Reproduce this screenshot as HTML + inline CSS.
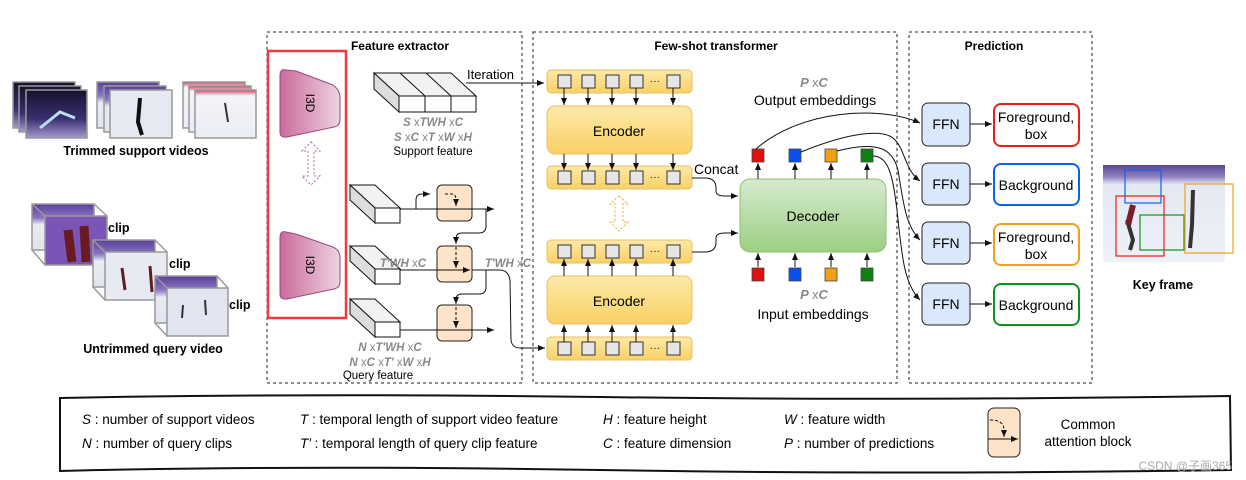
<!DOCTYPE html>
<html><head><meta charset="utf-8"><style>
html,body{margin:0;padding:0;background:#fff;}
svg{display:block;font-family:"Liberation Sans",Arial,sans-serif;}
</style></head><body>
<svg width="1246" height="480" viewBox="0 0 1246 480" xmlns="http://www.w3.org/2000/svg">
<defs>
<marker id="ah" markerWidth="8" markerHeight="8" refX="7" refY="4" orient="auto" markerUnits="userSpaceOnUse"><path d="M0,1 L7,4 L0,7 Z" fill="#111"/></marker>
<linearGradient id="i3d" x1="0" x2="1"><stop offset="0" stop-color="#cc6a9c"/><stop offset="1" stop-color="#ecd3e2"/></linearGradient>
<linearGradient id="yel" x1="0" y1="0" x2="0" y2="1"><stop offset="0" stop-color="#fdeaa8"/><stop offset="1" stop-color="#f9d065"/></linearGradient>
<linearGradient id="grn" x1="0" y1="0" x2="0" y2="1"><stop offset="0" stop-color="#d6ead0"/><stop offset="1" stop-color="#9ccf82"/></linearGradient>
<linearGradient id="ice" x1="0" y1="0" x2="0" y2="1"><stop offset="0" stop-color="#5b3f9a"/><stop offset="0.3" stop-color="#8a77c0"/><stop offset="0.45" stop-color="#e8ecf4"/><stop offset="1" stop-color="#dfe4ef"/></linearGradient>
<linearGradient id="dark" x1="0" y1="0" x2="0" y2="1"><stop offset="0" stop-color="#15122e"/><stop offset="0.6" stop-color="#3a2f70"/><stop offset="1" stop-color="#a79ad0"/></linearGradient>
<linearGradient id="whice" x1="0" y1="0" x2="0" y2="1"><stop offset="0" stop-color="#d04060"/><stop offset="0.12" stop-color="#f4f4f8"/><stop offset="1" stop-color="#e9edf4"/></linearGradient>
<linearGradient id="kf" x1="0" y1="0" x2="0" y2="1"><stop offset="0" stop-color="#5a4698"/><stop offset="0.12" stop-color="#8d80bd"/><stop offset="0.2" stop-color="#e4e8f2"/><stop offset="1" stop-color="#eef1f7"/></linearGradient>
</defs>

<!-- Left: support videos -->
<g stroke="#999" stroke-width="1.5">
<rect x="13" y="82" width="62" height="46" fill="url(#dark)"/>
<rect x="19" y="86" width="62" height="46" fill="url(#dark)"/>
<rect x="26" y="90" width="61" height="48" fill="url(#dark)"/>
<rect x="97" y="82" width="62" height="46" fill="url(#ice)"/>
<rect x="104" y="86" width="62" height="46" fill="url(#ice)"/>
<rect x="110" y="90" width="62" height="48" fill="#e6e9f2"/>
<rect x="183" y="82" width="62" height="46" fill="url(#whice)"/>
<rect x="189" y="86" width="62" height="46" fill="url(#whice)"/>
<rect x="195" y="90" width="61" height="48" fill="url(#whice)"/>
</g>
<path d="M40,128 L60,112 L75,118" stroke="#bde" stroke-width="3" fill="none"/>
<path d="M140,98 L138,122 L142,135" stroke="#111" stroke-width="4" fill="none"/>
<path d="M225,103 L228,122" stroke="#333" stroke-width="2" fill="none"/>
<text x="136" y="155" font-size="12.5" font-weight="bold" text-anchor="middle">Trimmed support videos</text>

<!-- Left: query clips -->
<g stroke="#999" stroke-width="1.5">
<rect x="32" y="204" width="62" height="46" fill="url(#ice)"/>
<line x1="32" y1="204" x2="45" y2="216"/><line x1="94" y1="204" x2="107" y2="216"/><line x1="32" y1="250" x2="45" y2="265"/>
<rect x="45" y="216" width="62" height="49" fill="#7a55b5"/>
<rect x="93" y="240" width="62" height="47" fill="url(#ice)"/>
<line x1="93" y1="240" x2="105" y2="252"/><line x1="155" y1="240" x2="167" y2="252"/><line x1="93" y1="287" x2="105" y2="300"/>
<rect x="105" y="252" width="62" height="48" fill="#e7eaf2"/>
<rect x="155" y="276" width="62" height="47" fill="url(#ice)"/>
<line x1="155" y1="276" x2="167" y2="288"/><line x1="217" y1="276" x2="228" y2="288"/><line x1="155" y1="323" x2="167" y2="336"/>
<rect x="167" y="288" width="61" height="48" fill="#e2e6f0"/>
</g>
<path d="M68,230 L72,262 M84,226 L86,262" stroke="#6a1a22" stroke-width="9"/>
<path d="M122,268 L125,290 M150,266 L152,292" stroke="#5a2020" stroke-width="3"/>
<path d="M183,305 L182,318 M205,300 L206,315" stroke="#333" stroke-width="2"/>
<g font-size="12.5" font-weight="bold"><text x="108" y="232">clip</text><text x="169" y="268">clip</text><text x="229" y="309">clip</text></g>
<text x="153" y="353" font-size="12.5" font-weight="bold" text-anchor="middle">Untrimmed query video</text>

<!-- Panels -->
<g fill="none" stroke="#222" stroke-width="1" stroke-dasharray="3,3">
<rect x="267" y="32" width="255" height="351"/>
<rect x="533" y="32" width="364" height="351"/>
<rect x="909" y="32" width="183" height="351"/>
</g>
<g font-size="12" font-weight="bold" text-anchor="middle">
<text x="400" y="50">Feature extractor</text>
<text x="716" y="50">Few-shot transformer</text>
<text x="994" y="50">Prediction</text>
</g>

<!-- Red box + I3D -->
<rect x="268" y="51" width="78" height="267" fill="none" stroke="#f03c3c" stroke-width="2.5"/>
<g stroke="#9a4a7a" stroke-width="1">
<path d="M286,70 Q280,68 280,76 L280,132 Q280,138 287,137 L334,127 Q340,126 340,119 L340,98 Q340,90 333,85 L296,71 Z" fill="url(#i3d)"/>
<path d="M286,232 Q280,230 280,238 L280,294 Q280,300 287,299 L334,289 Q340,288 340,281 L340,258 Q340,250 333,247 L296,234 Z" fill="url(#i3d)"/>
</g>
<text x="0" y="0" font-size="12" transform="translate(306,103) rotate(90)" text-anchor="middle">I3D</text>
<text x="0" y="0" font-size="12" transform="translate(306,265) rotate(90)" text-anchor="middle">I3D</text>
<path d="M311,142 L320,151 L314,151 L314,176 L320,176 L311,185 L302,176 L308,176 L308,151 L302,151 Z" fill="none" stroke="#a06a95" stroke-dasharray="2,2"/>

<!-- Support feature block -->
<g stroke="#111" stroke-width="1">
<path d="M374,73 L451,73 L476,96 L399,96 Z" fill="#f2f2f2"/>
<path d="M374,73 L399,96 L399,112 L374,89 Z" fill="#ddd"/>
<rect x="399" y="96" width="26" height="16" fill="#fff"/>
<rect x="425" y="96" width="26" height="16" fill="#fff"/>
<rect x="451" y="96" width="25" height="16" fill="#fff"/>
<line x1="400" y1="73" x2="425" y2="96"/><line x1="426" y1="73" x2="451" y2="96"/>
</g>
<text x="467" y="79" font-size="13">Iteration</text>
<line x1="466" y1="83" x2="544" y2="83" stroke="#111" marker-end="url(#ah)"/>

<!-- Query blocks -->
<g stroke="#111" stroke-width="1">
<g id="qb">
<path d="M350,185 L375,185 L400,208 L375,208 Z" fill="#f2f2f2"/>
<path d="M350,185 L375,208 L375,223 L350,200 Z" fill="#ddd"/>
<rect x="375" y="208" width="25" height="15" fill="#fff"/>
</g>
<use href="#qb" y="61"/>
<use href="#qb" y="114"/>
</g>
<g font-size="11.5" font-weight="bold" font-style="italic" fill="#888" text-anchor="middle">
<text x="433" y="126">S <tspan font-weight="normal" font-style="normal">x</tspan>TWH <tspan font-weight="normal" font-style="normal">x</tspan>C</text>
<text x="433" y="141">S <tspan font-weight="normal" font-style="normal">x</tspan>C <tspan font-weight="normal" font-style="normal">x</tspan>T <tspan font-weight="normal" font-style="normal">x</tspan>W <tspan font-weight="normal" font-style="normal">x</tspan>H</text>
<text x="390" y="351">N <tspan font-weight="normal" font-style="normal">x</tspan>T'WH <tspan font-weight="normal" font-style="normal">x</tspan>C</text>
<text x="390" y="366">N <tspan font-weight="normal" font-style="normal">x</tspan>C <tspan font-weight="normal" font-style="normal">x</tspan>T' <tspan font-weight="normal" font-style="normal">x</tspan>W <tspan font-weight="normal" font-style="normal">x</tspan>H</text>
<text x="403" y="267">T'WH <tspan font-weight="normal" font-style="normal">x</tspan>C</text>
<text x="508" y="267">T'WH <tspan font-weight="normal" font-style="normal">x</tspan>C</text>
</g>
<text x="433" y="155" font-size="11.5" text-anchor="middle">Support feature</text>
<text x="378" y="379" font-size="11.5" text-anchor="middle">Query feature</text>
<!-- Attention blocks -->
<g fill="#fde3c8" stroke="#222" stroke-width="1">
<rect x="437" y="185" width="35" height="36" rx="5"/>
<rect x="437" y="246" width="35" height="36" rx="5"/>
<rect x="437" y="305" width="35" height="36" rx="5"/>
</g>
<g stroke="#111" fill="none" stroke-width="1">
<line x1="400" y1="209" x2="494" y2="209" marker-end="url(#ah)"/>
<path d="M416,209 L416,200 Q416,194 422,194 L430,194" marker-end="url(#ah)"/>
<path d="M445,194 L452,194 Q456,194 456,200 L456,206" stroke-dasharray="3,2" marker-end="url(#ah)"/>
<path d="M486,209 L486,226 Q486,233 479,233 L462,233 Q456,233 456,239 L456,244" marker-end="url(#ah)"/>
<line x1="400" y1="270" x2="470" y2="270" marker-end="url(#ah)"/>
<line x1="456" y1="247" x2="456" y2="268" stroke-dasharray="3,2" marker-end="url(#ah)"/>
<path d="M472,270 L500,270 Q508,270 510,280 L511,340 Q512,348 520,348 L545,348" marker-end="url(#ah)"/>
<path d="M486,270 L486,287 Q486,294 479,294 L462,294 Q456,294 456,300 L456,304" marker-end="url(#ah)"/>
<line x1="400" y1="330" x2="494" y2="330" marker-end="url(#ah)"/>
<line x1="456" y1="307" x2="456" y2="328" stroke-dasharray="3,2" marker-end="url(#ah)"/>
</g>

<!-- Transformer strips -->
<g id="strip">
<rect x="547" y="70" width="145" height="23" rx="4" fill="url(#yel)" stroke="#e8c060"/>
<g fill="#e6e6e6" stroke="#333" stroke-width="1">
<rect x="558" y="75" width="13" height="13"/><rect x="582" y="75" width="13" height="13"/><rect x="606" y="75" width="13" height="13"/><rect x="630" y="75" width="13" height="13"/><rect x="667" y="75" width="13" height="13"/>
</g>
<text x="655" y="84" font-size="10" text-anchor="middle">···</text>
</g>
<use href="#strip" y="96"/>
<use href="#strip" y="170"/>
<use href="#strip" y="267"/>
<rect x="547" y="106" width="145" height="48" rx="8" fill="url(#yel)" stroke="#e8c060"/>
<rect x="547" y="276" width="145" height="48" rx="8" fill="url(#yel)" stroke="#e8c060"/>
<text x="619" y="136" font-size="14" text-anchor="middle">Encoder</text>
<text x="619" y="306" font-size="14" text-anchor="middle">Encoder</text>
<g stroke="#111" fill="none">
<line x1="564" y1="88" x2="564" y2="105" marker-end="url(#ah)"/><line x1="588" y1="88" x2="588" y2="105" marker-end="url(#ah)"/><line x1="612" y1="88" x2="612" y2="105" marker-end="url(#ah)"/><line x1="636" y1="88" x2="636" y2="105" marker-end="url(#ah)"/><line x1="673" y1="88" x2="673" y2="105" marker-end="url(#ah)"/>
<line x1="564" y1="154" x2="564" y2="170" marker-end="url(#ah)"/><line x1="588" y1="154" x2="588" y2="170" marker-end="url(#ah)"/><line x1="612" y1="154" x2="612" y2="170" marker-end="url(#ah)"/><line x1="636" y1="154" x2="636" y2="170" marker-end="url(#ah)"/><line x1="673" y1="154" x2="673" y2="170" marker-end="url(#ah)"/>
<line x1="564" y1="276" x2="564" y2="259" marker-end="url(#ah)"/><line x1="588" y1="276" x2="588" y2="259" marker-end="url(#ah)"/><line x1="612" y1="276" x2="612" y2="259" marker-end="url(#ah)"/><line x1="636" y1="276" x2="636" y2="259" marker-end="url(#ah)"/><line x1="673" y1="276" x2="673" y2="259" marker-end="url(#ah)"/>
<line x1="564" y1="342" x2="564" y2="325" marker-end="url(#ah)"/><line x1="588" y1="342" x2="588" y2="325" marker-end="url(#ah)"/><line x1="612" y1="342" x2="612" y2="325" marker-end="url(#ah)"/><line x1="636" y1="342" x2="636" y2="325" marker-end="url(#ah)"/><line x1="673" y1="342" x2="673" y2="325" marker-end="url(#ah)"/>
<path d="M692,178 L705,178 Q716,178 716,188 L716,191 Q716,196 725,196 L738,196" marker-end="url(#ah)"/>
<path d="M692,252 L705,252 Q716,252 716,242 L716,238 Q716,233 725,233 L738,233" marker-end="url(#ah)"/>
</g>
<path d="M619,196 L628,204 L623,204 L623,222 L628,222 L619,231 L610,222 L615,222 L615,204 L610,204 Z" fill="none" stroke="#e8b020" stroke-dasharray="2,2"/>
<text x="694" y="174" font-size="14">Concat</text>

<!-- Decoder -->
<rect x="740" y="179" width="146" height="73" rx="10" fill="url(#grn)" stroke="#8cc070"/>
<text x="813" y="221" font-size="14" text-anchor="middle">Decoder</text>
<g stroke="#444" stroke-width="0.8">
<rect x="752" y="149" width="12" height="13" fill="#e01010"/><rect x="789" y="149" width="12" height="13" fill="#0a50f0"/><rect x="825" y="149" width="12" height="13" fill="#f0a010"/><rect x="861" y="149" width="12" height="13" fill="#108010"/>
<rect x="752" y="268" width="12" height="13" fill="#e01010"/><rect x="789" y="268" width="12" height="13" fill="#0a50f0"/><rect x="825" y="268" width="12" height="13" fill="#f0a010"/><rect x="861" y="268" width="12" height="13" fill="#108010"/>
</g>
<g stroke="#111" fill="none">
<line x1="758" y1="179" x2="758" y2="163" marker-end="url(#ah)"/><line x1="795" y1="179" x2="795" y2="163" marker-end="url(#ah)"/><line x1="831" y1="179" x2="831" y2="163" marker-end="url(#ah)"/><line x1="867" y1="179" x2="867" y2="163" marker-end="url(#ah)"/>
<line x1="758" y1="267" x2="758" y2="253" marker-end="url(#ah)"/><line x1="795" y1="267" x2="795" y2="253" marker-end="url(#ah)"/><line x1="831" y1="267" x2="831" y2="253" marker-end="url(#ah)"/><line x1="867" y1="267" x2="867" y2="253" marker-end="url(#ah)"/>
<path d="M756,149 C800,110 880,105 920,123" marker-end="url(#ah)"/>
<path d="M801,152 C850,132 885,128 895,140 C905,150 905,170 920,181" marker-end="url(#ah)"/>
<path d="M837,151 C880,140 893,150 898,170 C903,200 905,225 920,240" marker-end="url(#ah)"/>
<path d="M873,156 C890,156 893,180 897,210 C902,260 905,285 920,300" marker-end="url(#ah)"/>
</g>
<g text-anchor="middle">
<text x="814" y="87" font-size="13" font-weight="bold" font-style="italic" fill="#888">P <tspan font-weight="normal" font-style="normal">x</tspan>C</text>
<text x="815" y="105" font-size="14">Output embeddings</text>
<text x="814" y="299" font-size="13" font-weight="bold" font-style="italic" fill="#888">P <tspan font-weight="normal" font-style="normal">x</tspan>C</text>
<text x="813" y="319" font-size="14">Input embeddings</text>
</g>

<!-- Prediction -->
<g fill="#dae8fc" stroke="#222" stroke-width="1">
<rect x="922" y="103" width="48" height="43" rx="6"/><rect x="922" y="163" width="48" height="42" rx="6"/><rect x="922" y="222" width="48" height="42" rx="6"/><rect x="922" y="283" width="48" height="42" rx="6"/>
</g>
<g fill="#fff" stroke-width="2">
<rect x="994" y="104" width="85" height="42" rx="7" stroke="#e8201a"/>
<rect x="994" y="164" width="85" height="41" rx="7" stroke="#1060f0"/>
<rect x="994" y="224" width="85" height="41" rx="7" stroke="#f0a020"/>
<rect x="994" y="284" width="85" height="41" rx="7" stroke="#109020"/>
</g>
<g stroke="#111" fill="none">
<line x1="970" y1="124" x2="992" y2="124" marker-end="url(#ah)"/><line x1="970" y1="184" x2="992" y2="184" marker-end="url(#ah)"/><line x1="970" y1="243" x2="992" y2="243" marker-end="url(#ah)"/><line x1="970" y1="304" x2="992" y2="304" marker-end="url(#ah)"/>
</g>
<g font-size="14" text-anchor="middle">
<text x="946" y="129">FFN</text><text x="946" y="189">FFN</text><text x="946" y="248">FFN</text><text x="946" y="309">FFN</text>
<text x="1036" y="122">Foreground,</text><text x="1036" y="139">box</text>
<text x="1036" y="190">Background</text>
<text x="1036" y="242">Foreground,</text><text x="1036" y="259">box</text>
<text x="1036" y="310">Background</text>
</g>

<!-- Key frame -->
<rect x="1103" y="165" width="122" height="97" fill="url(#kf)"/>
<path d="M1127,220 L1133,240 L1130,250 M1193,190 L1192,225 L1190,248" stroke="#333" stroke-width="4" fill="none"/>
<path d="M1133,205 L1128,225" stroke="#7a1f2a" stroke-width="6"/>
<g fill="none" stroke-width="1.2">
<rect x="1125" y="170" width="36" height="33" stroke="#1060f0"/>
<rect x="1116" y="196" width="48" height="60" stroke="#e8201a"/>
<rect x="1140" y="215" width="44" height="35" stroke="#109020"/>
<rect x="1185" y="184" width="48" height="69" stroke="#f0a020"/>
</g>
<text x="1163" y="289" font-size="12.5" font-weight="bold" text-anchor="middle">Key frame</text>

<!-- Legend -->
<path d="M60,398 Q300,393 600,397 T1230,396 L1231,470 Q900,475 600,470 T60,471 Z" fill="#fff" stroke="#111" stroke-width="2"/>
<g font-size="13.5">
<text x="82" y="424"><tspan font-style="italic">S</tspan> : number of support videos</text>
<text x="82" y="448"><tspan font-style="italic">N</tspan> : number of query clips</text>
<text x="300" y="424"><tspan font-style="italic">T</tspan> : temporal length of support video feature</text>
<text x="300" y="448"><tspan font-style="italic">T'</tspan> : temporal length of query clip feature</text>
<text x="603" y="424"><tspan font-style="italic">H</tspan> : feature height</text>
<text x="603" y="448"><tspan font-style="italic">C</tspan> : feature dimension</text>
<text x="784" y="424"><tspan font-style="italic">W</tspan> : feature width</text>
<text x="784" y="448"><tspan font-style="italic">P</tspan> : number of predictions</text>
<text x="1088" y="429" text-anchor="middle">Common</text>
<text x="1088" y="446" text-anchor="middle">attention block</text>
</g>
<rect x="988" y="408" width="32" height="49" rx="6" fill="#fde3c8" stroke="#222"/>
<g stroke="#111" fill="none">
<path d="M990,420 Q1004,420 1004,430 L1004,437" stroke-dasharray="3,2" marker-end="url(#ah)"/>
<line x1="988" y1="439" x2="1018" y2="439" marker-end="url(#ah)"/>
</g>
<text x="1232" y="470" font-size="12" fill="#aaa" text-anchor="end">CSDN @子画365</text>
</svg>
</body></html>
